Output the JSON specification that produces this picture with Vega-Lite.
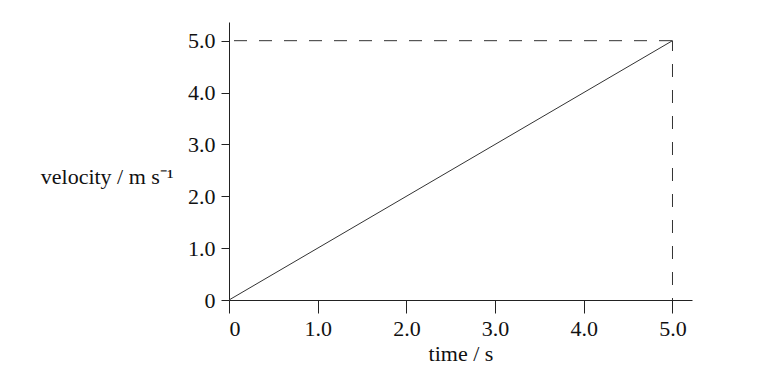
{
  "$schema": "https://vega.github.io/schema/vega-lite/v6.json",
  "width": 463,
  "height": 278,
  "autosize": {"type": "none"},
  "padding": {"left": 229, "top": 22, "right": 76, "bottom": 92},
  "background": "white",
  "config": {
    "view": {"stroke": null},
    "font": "Liberation Serif",
    "axis": {
      "grid": false,
      "domainColor": "#222",
      "tickColor": "#222",
      "labelColor": "#111",
      "titleColor": "#111",
      "labelFont": "Liberation Serif",
      "titleFont": "Liberation Serif",
      "labelFontSize": 22,
      "titleFontSize": 22,
      "titleFontWeight": "normal",
      "domainWidth": 1,
      "tickWidth": 1
    }
  },
  "datasets": {
    "line": [{"t": 0, "v": 0}, {"t": 5, "v": 5}],
    "hdash": [{"t": 0, "v": 5}, {"t": 5, "v": 5}],
    "vdash": [{"t": 5, "v": 0}, {"t": 5, "v": 5}]
  },
  "layer": [
    {
      "data": {"name": "line"},
      "mark": {"type": "line", "color": "#333", "strokeWidth": 1},
      "encoding": {
        "x": {
          "field": "t", "type": "quantitative",
          "scale": {"domain": [0, 5.22], "nice": false},
          "axis": {
            "values": [0, 1, 2, 3, 4, 5],
            "labelExpr": "datum.value == 0 ? '0' : format(datum.value, '.1f')",
            "title": "time / s",
            "tickSize": 13,
            "labelPadding": 5,
            "titlePadding": 4
          }
        },
        "y": {
          "field": "v", "type": "quantitative",
          "scale": {"domain": [0, 5.36], "nice": false},
          "axis": {
            "values": [0, 1, 2, 3, 4, 5],
            "labelExpr": "datum.value == 0 ? '0' : format(datum.value, '.1f')",
            "title": "velocity / m s\u207b\u00b9",
            "tickSize": 8,
            "labelPadding": 6,
            "titleAngle": 0,
            "titleAlign": "right",
            "titleBaseline": "middle",
            "titleX": -56,
            "titleY": 154
          }
        }
      }
    },
    {
      "data": {"name": "hdash"},
      "mark": {"type": "line", "color": "#333", "strokeWidth": 1, "strokeDash": [13, 12], "strokeDashOffset": 20},
      "encoding": {
        "x": {"field": "t", "type": "quantitative"},
        "y": {"field": "v", "type": "quantitative"}
      }
    },
    {
      "data": {"name": "vdash"},
      "mark": {"type": "line", "color": "#333", "strokeWidth": 1, "strokeDash": [13, 13], "strokeDashOffset": 11},
      "encoding": {
        "x": {"field": "t", "type": "quantitative"},
        "y": {"field": "v", "type": "quantitative"}
      }
    }
  ]
}
